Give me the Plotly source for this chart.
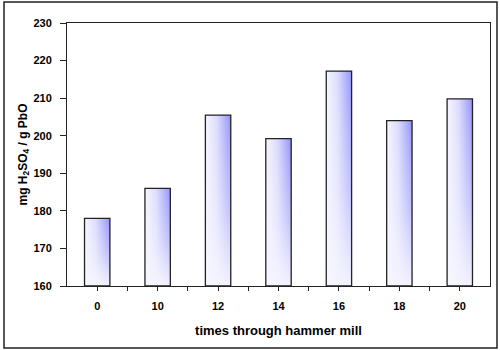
import plotly.graph_objects as go

categories = ["0", "10", "12", "14", "16", "18", "20"]
values = [178, 186, 205.5, 199.2, 217.2, 204, 209.8]
y_ticks = [160, 170, 180, 190, 200, 210, 220, 230]

BASE = 160
HALF = 0.21
idx = list(range(len(categories)))

fig = go.Figure()
fig.add_trace(go.Bar(x=idx, y=[v - BASE for v in values], base=BASE, width=2 * HALF,
                     marker=dict(color="#e6e6fd", line=dict(width=0)), hoverinfo="y",
                     showlegend=False))

for i, v in zip(idx, values):
    xs = [i - HALF, i + HALF, i + HALF, i - HALF, i - HALF]
    ys = [BASE, BASE, v, v, BASE]
    fig.add_trace(go.Scatter(x=xs, y=ys, mode="none", fill="toself",
                             fillgradient=dict(type="horizontal",
                                               colorscale=[[0, "#f6f6ff"], [0.45, "#dcdcfd"], [1, "#9494fb"]]),
                             hoverinfo="skip", showlegend=False))
    fig.add_trace(go.Scatter(x=xs, y=ys, mode="lines", fill="toself",
                             line=dict(color="#222222", width=1.3),
                             fillgradient=dict(type="vertical",
                                               colorscale=[[0, "rgba(246,246,255,0.95)"],
                                                           [0.45, "rgba(246,246,255,0.45)"],
                                                           [1, "rgba(246,246,255,0)"]]),
                             hoverinfo="skip", showlegend=False))

FONT = "Liberation Sans, Arial, sans-serif"
tick_font = dict(family=FONT, size=11, color="#000000")
title_font = dict(family=FONT, size=13, color="#000000")
ytitle_font = dict(family=FONT, size=12, color="#000000")

fig.update_layout(
    width=500, height=350,
    margin=dict(l=67, r=10, t=23, b=64),
    paper_bgcolor="white", plot_bgcolor="white",
    font=tick_font,
    xaxis=dict(range=[-0.5, 6.5], tickvals=idx, ticktext=["<b>%s</b>" % c for c in categories],
               tickfont=tick_font, ticklabelstandoff=6,
               showgrid=False, zeroline=False, showline=True, linecolor="#222222", linewidth=1,
               mirror=True, ticks="outside", ticklen=4, tickcolor="#222222",
               minor=dict(tickvals=[i + 0.5 for i in idx[:-1]], ticks="outside", ticklen=4,
                          tickcolor="#222222", showgrid=False),
               title=dict(text="<b>times through hammer mill</b>", font=title_font, standoff=14),
               fixedrange=True),
    yaxis=dict(range=[160, 230], tickvals=y_ticks, ticktext=["<b>%d</b>" % t for t in y_ticks],
               tickfont=tick_font, ticklabelstandoff=6,
               showgrid=False, zeroline=False, showline=True, linecolor="#222222", linewidth=1,
               mirror=True, ticks="outside", ticklen=6, tickcolor="#222222",
               title=dict(text="<b>mg H<sub>2</sub>SO<sub>4</sub> / g PbO</b>", font=ytitle_font, standoff=3),
               fixedrange=True),
    shapes=[dict(type="rect", xref="paper", yref="paper",
                 x0=-63 / 423, x1=1 + 7 / 423, y0=-62 / 263, y1=1 + 21 / 263,
                 line=dict(color="#222222", width=1.5))],
)

fig.write_html("out.html")
